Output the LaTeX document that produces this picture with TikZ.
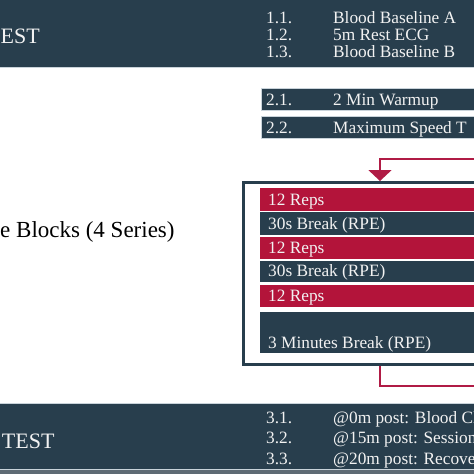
\documentclass[tikz,border=0pt]{standalone}
\usepackage{fontspec}
\setmainfont{Liberation Serif}
\usetikzlibrary{arrows.meta}
\definecolor{dk}{HTML}{283E4D}
\definecolor{rd}{HTML}{B3143A}
\definecolor{rl}{HTML}{B01B45}
\definecolor{edge}{HTML}{C9D3DA}
\definecolor{wt}{HTML}{F2F2F2}
\definecolor{strip}{HTML}{5E6B74}
\tikzset{
  band/.style={fill=dk, draw=edge, line width=0.8pt, inner sep=0pt, outer sep=0pt, anchor=north west},
  repbox/.style={fill=rd, draw=none, inner sep=0pt, outer sep=0pt, anchor=north west, minimum width=240pt},
  brkbox/.style={fill=dk, draw=none, inner sep=0pt, outer sep=0pt, anchor=north west, minimum width=240pt},
  wtxt/.style={text=wt, font=\fontsize{17.3}{18}\selectfont, inner sep=0pt, anchor=base west},
  bigw/.style={text=wt, font=\fontsize{22}{24}\selectfont, inner sep=0pt, anchor=base west},
  bigk/.style={text=black, font=\fontsize{23}{24}\selectfont, inner sep=0pt, anchor=base west},
  frm/.style={draw=dk, line width=3pt, inner sep=0pt, anchor=north west},
  redline/.style={draw=rl, line width=2pt},
}
\begin{document}
\begin{tikzpicture}[x=1pt,y=-1pt]
\useasboundingbox (0,0) rectangle (474,474);
\clip (0,0) rectangle (474,474);
\fill[white] (0,0) rectangle (474,474);

% top band
\node[band, minimum width=480pt, minimum height=68pt] (pre) at (-3,-1) {};
\node[bigw] (preT) at (0.5,43.3) {EST};
\node[wtxt] (n11) at (266,23) {1.1.};
\node[wtxt] (t11) at (333,23) {Blood Baseline A};
\node[wtxt] (n12) at (266,40) {1.2.};
\node[wtxt] (t12) at (333,40) {5m Rest ECG};
\node[wtxt] (n13) at (266,57) {1.3.};
\node[wtxt] (t13) at (333,57) {Blood Baseline B};

% warmup boxes
\node[band, minimum width=240pt, minimum height=22pt] (b21) at (261,88) {};
\node[wtxt] (n21) at (266,105) {2.1.};
\node[wtxt] (t21) at (333,105) {2 Min Warmup};
\node[band, minimum width=240pt, minimum height=22pt] (b22) at (261,116) {};
\node[wtxt] (n22) at (266,133) {2.2.};
\node[wtxt] (t22) at (333,133) {Maximum Speed T};

% middle label
\node[bigk] (midT) at (0,237) {e Blocks (4 Series)};

% frame and blocks
\node[frm, minimum width=262pt, minimum height=182pt] (frame) at (241.5,181) {};
\node[repbox, minimum height=23pt] (r1) at (260,188) {};
\node[wtxt] (r1t) at (268,205.5) {12 Reps};
\node[brkbox, minimum height=23pt] (k1) at (260,212) {};
\node[wtxt] (k1t) at (268,229.2) {30s Break (RPE)};
\node[repbox, minimum height=22pt] (r2) at (260,236.5) {};
\node[wtxt] (r2t) at (268,253) {12 Reps};
\node[brkbox, minimum height=21.5pt] (k2) at (260,260.5) {};
\node[wtxt] (k2t) at (268,276.7) {30s Break (RPE)};
\node[repbox, minimum height=22pt] (r3) at (260,285) {};
\node[wtxt] (r3t) at (268,301.5) {12 Reps};
\node[brkbox, minimum height=41.5pt] (k3) at (260,311.7) {};
\node[wtxt] (k3t) at (268,348) {3 Minutes Break (RPE)};

% loop connectors
\coordinate (fx) at (380,0);
\coordinate (loopTop) at (490,159);
\coordinate (loopBot) at (490,386);
\draw[redline] (frame.south -| fx) |- (loopBot);
\draw[redline, -{Triangle[width=23pt,length=11pt]}] (loopTop) -| (frame.north -| fx);

% bottom band
\fill[strip] (0,469) rectangle (474,474);
\node[band, minimum width=480pt, minimum height=66pt] (post) at (-3,403) {};
\node[bigw] (postT) at (1.7,448) {TEST};
\node[wtxt] (n31) at (266,423) {3.1.};
\node[wtxt] (t31) at (333,423) {@0m post: Blood Cl};
\node[wtxt] (n32) at (266,443.5) {3.2.};
\node[wtxt] (t32) at (333,443.5) {@15m post: Session};
\node[wtxt] (n33) at (266,464) {3.3.};
\node[wtxt] (t33) at (333,464) {@20m post: Recove};
\end{tikzpicture}
\end{document}
